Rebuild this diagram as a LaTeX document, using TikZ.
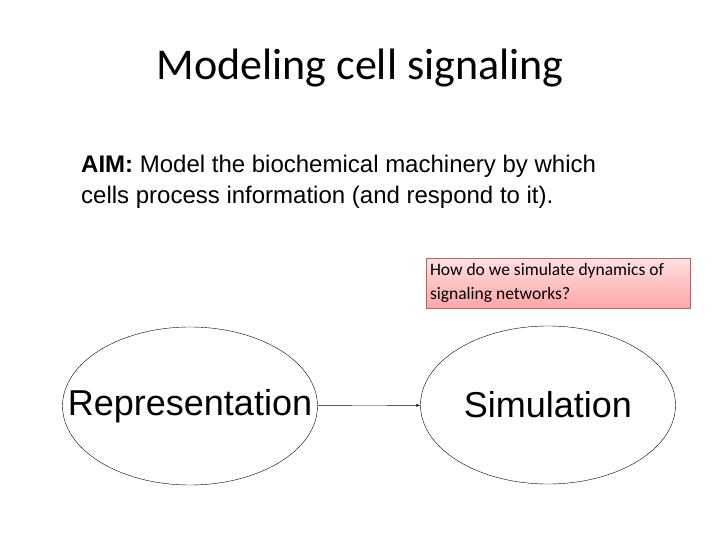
\documentclass[tikz,border=0pt]{standalone}
\usepackage{fontspec}
\usetikzlibrary{shapes.geometric}
\setmainfont{Liberation Sans}
\newfontfamily\calib{Carlito}
\begin{document}
\begin{tikzpicture}[x=1pt,y=-1pt,
  oval/.style={draw,ellipse,minimum width=255pt,minimum height=158pt,inner xsep=-40pt,inner ysep=0pt,font=\fontsize{36}{42}\selectfont},
  box/.style={draw=red!50!black!60,top color=red!12,bottom color=red!35,minimum width=264pt,minimum height=50pt,inner sep=4pt,text width=256pt,align=flush left,font=\calib\fontsize{17.5}{24}\selectfont}]
\useasboundingbox (0,0) rectangle (720,540);
\node[font=\calib\fontsize{44}{50}\selectfont] (title) at (360,68) {Modeling cell signaling};
\node[anchor=north west,align=left,font=\fontsize{24}{31}\selectfont,inner sep=0pt] (aim) at (81,155) {\textbf{AIM:} Model the biochemical machinery by which\\cells process information (and respond to it).};
\node[box] (q) at (558,283) {How do we simulate dynamics of\\signaling networks?};
\node[oval] (rep) at (190,406) {Representation};
\node[oval] (sim) at (548,405) {Simulation};
\draw[-latex] (rep) -- (sim);
\end{tikzpicture}
\end{document}
